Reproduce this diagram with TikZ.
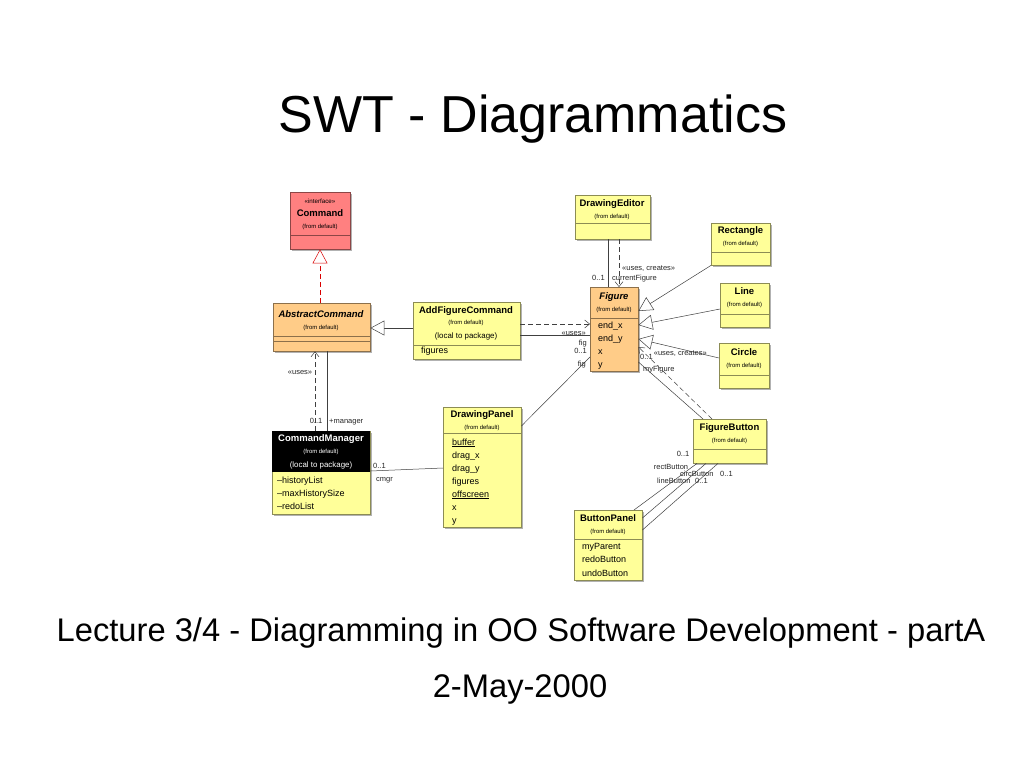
\documentclass[tikz,border=0pt]{standalone}
\usepackage{fontspec}
\setmainfont{Liberation Sans}
\usetikzlibrary{arrows.meta,shadows}
\definecolor{umlyellow}{HTML}{FFFF99}
\definecolor{umlorange}{HTML}{FFCC88}
\definecolor{umlred}{HTML}{FF8080}
\definecolor{umlline}{HTML}{404040}
\begin{document}
\begin{tikzpicture}[x=1pt,y=-1pt,
    classbox/.style={draw=#1!55!black, fill=#1, anchor=north west, inner sep=0pt,
      drop shadow={shadow xshift=2pt,shadow yshift=-2pt,fill=black!30,opacity=1}},
    divider/.style={draw=#1!55!black, line width=0.4pt},
    cname/.style={font=\fontsize{9.5}{11}\selectfont\bfseries, anchor=base, inner sep=0pt},
    fromdef/.style={font=\fontsize{5.9}{7}\selectfont, anchor=base, inner sep=0pt},
    localpkg/.style={font=\fontsize{7.9}{9}\selectfont, anchor=base, inner sep=0pt},
    attr/.style={font=\fontsize{9}{10}\selectfont, anchor=base west, inner sep=0pt},
    lbl/.style={font=\fontsize{7.5}{8}\selectfont, text=black!85, anchor=base west, inner sep=0pt},
    assoc/.style={draw=umlline, line width=0.5pt},
    dep/.style={assoc, dash pattern=on 5pt off 3pt, -{Straight Barb[length=5pt,width=8pt]}},
    gen/.style={assoc, -{Triangle[open,length=14pt,width=15pt,fill=white]}}]
  \useasboundingbox (0,0) rectangle (1024,768);
  \fill[white] (0,0) rectangle (1024,768);

  % titles
  \node[font=\fontsize{52}{60}\selectfont, anchor=base] (title) at (533,132) {SWT - Diagrammatics};
  \node[font=\fontsize{32.7}{38}\selectfont, anchor=base] (lecture) at (521,641)
    {Lecture 3/4 - Diagramming in OO Software Development - partA};
  \node[font=\fontsize{32.7}{38}\selectfont, anchor=base] (date) at (520,697) {2-May-2000};

  % classes
  \node[classbox=umlred, minimum width=60pt, minimum height=57pt] (command) at (290,192) {};
  \draw[divider=umlred] (290,235) -- (350,235);
  \node[fromdef, font=\fontsize{6.2}{7}\selectfont] (commandst) at (320,203) {«interface»};
  \node[cname] (commandname) at (320,216.5) {Command};
  \node[fromdef] (commandfrom) at (320,228.5) {(from default)};

  \node[classbox=umlorange, minimum width=97pt, minimum height=48pt] (abstract) at (273,303) {};
  \draw[divider=umlorange] (273,336) -- (370,336);
  \draw[divider=umlorange] (273,341) -- (370,341);
  \node[cname, font=\fontsize{9.5}{11}\selectfont\bfseries\itshape] (abstractname) at (321,317.5) {AbstractCommand};
  \node[fromdef] (abstractfrom) at (321,329.5) {(from default)};

  \node[classbox=umlyellow, minimum width=107pt, minimum height=57pt] (addfig) at (413,302) {};
  \draw[divider=umlyellow] (413,345) -- (520,345);
  \node[cname] (addfigname) at (466,313.5) {AddFigureCommand};
  \node[fromdef] (addfigfrom) at (466,324.5) {(from default)};
  \node[localpkg] (addfiglocal) at (466,338.5) {(local to package)};
  \node[attr] (addfigfigures) at (421,353.5) {figures};

  \node[classbox=umlorange, minimum width=48pt, minimum height=84pt] (figure) at (590,287) {};
  \draw[divider=umlorange] (590,318) -- (638,318);
  \node[cname, font=\fontsize{9.5}{11}\selectfont\bfseries\itshape] (figurename) at (614,299.5) {Figure};
  \node[fromdef] (figurefrom) at (614,311.5) {(from default)};
  \node[attr] (figureendx) at (598,328) {end\_x};
  \node[attr] (figureendy) at (598,341) {end\_y};
  \node[attr] (figurex) at (598,354) {x};
  \node[attr] (figurey) at (598,367) {y};

  \node[classbox=umlyellow, minimum width=75pt, minimum height=44pt] (editor) at (575,195) {};
  \draw[divider=umlyellow] (575,223) -- (650,223);
  \node[cname] (editorname) at (612,206.5) {DrawingEditor};
  \node[fromdef] (editorfrom) at (612,218.5) {(from default)};

  \node[classbox=umlyellow, minimum width=59pt, minimum height=42pt] (rect) at (711,223) {};
  \draw[divider=umlyellow] (711,252) -- (770,252);
  \node[cname] (rectname) at (740.5,233.5) {Rectangle};
  \node[fromdef] (rectfrom) at (740.5,245.5) {(from default)};

  \node[classbox=umlyellow, minimum width=49pt, minimum height=44pt] (line) at (720,283) {};
  \draw[divider=umlyellow] (720,314) -- (769,314);
  \node[cname] (linename) at (744.5,294.5) {Line};
  \node[fromdef] (linefrom) at (744.5,306.5) {(from default)};

  \node[classbox=umlyellow, minimum width=50pt, minimum height=45pt] (circle) at (719,343) {};
  \draw[divider=umlyellow] (719,375) -- (769,375);
  \node[cname] (circlename) at (744,355.5) {Circle};
  \node[fromdef] (circlefrom) at (744,367.5) {(from default)};

  \node[classbox=umlyellow, minimum width=73pt, minimum height=44pt] (figbutton) at (693,419) {};
  \draw[divider=umlyellow] (693,449) -- (766,449);
  \node[cname] (figbuttonname) at (729.5,430.5) {FigureButton};
  \node[fromdef] (figbuttonfrom) at (729.5,442.5) {(from default)};

  \node[classbox=umlyellow, minimum width=68pt, minimum height=70pt] (buttonpanel) at (574,510) {};
  \draw[divider=umlyellow] (574,539) -- (642,539);
  \node[cname] (buttonpanelname) at (608,521.5) {ButtonPanel};
  \node[fromdef] (buttonpanelfrom) at (608,533.5) {(from default)};
  \node[attr] (bpparent) at (582,549) {myParent};
  \node[attr] (bpredo) at (582,562.5) {redoButton};
  \node[attr] (bpundo) at (582,576) {undoButton};

  \node[classbox=umlyellow, minimum width=78pt, minimum height=120pt] (drawingpanel) at (443,407) {};
  \draw[divider=umlyellow] (443,433) -- (521,433);
  \node[cname] (drawingpanelname) at (482,417.5) {DrawingPanel};
  \node[fromdef] (drawingpanelfrom) at (482,429.5) {(from default)};
  \node[attr] (dpbuffer) at (452,445) {\underline{buffer}};
  \node[attr] (dpdragx) at (452,458) {drag\_x};
  \node[attr] (dpdragy) at (452,471) {drag\_y};
  \node[attr] (dpfigures) at (452,484) {figures};
  \node[attr] (dpoffscreen) at (452,497) {\underline{offscreen}};
  \node[attr] (dpx) at (452,510) {x};
  \node[attr] (dpy) at (452,523) {y};

  \node[classbox=umlyellow, minimum width=98pt, minimum height=83pt] (cmdmgr) at (272,431) {};
  \fill[black] (cmdmgr.north west) rectangle (cmdmgr.east |- 0,472);
  \node[cname, text=white] (cmdmgrname) at (321,441.5) {CommandManager};
  \node[fromdef, text=white] (cmdmgrfrom) at (321,453.5) {(from default)};
  \node[localpkg, text=white] (cmdmgrlocal) at (321,467) {(local to package)};
  \node[attr] (cmhistory) at (277,483) {–historyList};
  \node[attr] (cmmax) at (277,496) {–maxHistorySize};
  \node[attr] (cmredo) at (277,509) {–redoList};

  % relations
  \draw[red!85!black, line width=0.5pt, dash pattern=on 5pt off 3pt,
    -{Triangle[open,length=14pt,width=15pt,fill=white]}]
    (abstract.north -| 320,0) -- (command.south -| 320,0);
  \draw[gen] (addfig.west |- 0,328) -- (abstract.east |- 0,328);
  \draw[dep] (addfig.east |- 0,324) -- (figure.west |- 0,324);
  \draw[assoc] (addfig.east |- 0,335) -- (figure.west |- 0,335);
  \draw[assoc] (drawingpanel.east |- 0,426) -- (figure.west |- 0,357);
  \draw[assoc] (editor.south -| 608,0) -- (figure.north -| 608,0);
  \draw[dep] (editor.south -| 619,0) -- (figure.north -| 619,0);
  \draw[gen] (rect.south west) -- (figure.east |- 0,311);
  \draw[gen] (line.west |- 0,309) -- (figure.east |- 0,325);
  \draw[gen] (circle.west |- 0,358) -- (figure.east |- 0,339);
  \draw[dep] (figbutton.north -| 712,0) -- (figure.east |- 0,347);
  \draw[assoc] (figbutton.north -| 703,0) -- (figure.east |- 0,362);
  \draw[dep] (cmdmgr.north -| 315,0) -- (abstract.south -| 315,0);
  \draw[assoc] (cmdmgr.north -| 327,0) -- (abstract.south -| 327,0);
  \draw[assoc] (cmdmgr.east |- 0,471) -- (drawingpanel.west |- 0,468);
  \draw[assoc] (buttonpanel.north -| 634,0) -- (figbutton.south -| 697,0);
  \draw[assoc] (buttonpanel.east |- 0,518) -- (figbutton.south -| 706,0);
  \draw[assoc] (buttonpanel.east |- 0,530) -- (figbutton.south -| 718,0);

  % relation labels
  \node[lbl] (editoruses) at (622,270.5) {«uses, creates»};
  \node[lbl] (editormult) at (592,280.5) {0..1};
  \node[lbl] (editorrole) at (612,280.5) {currentFigure};
  \node[lbl, anchor=base east] (addfiguses) at (586,335.5) {«uses»};
  \node[lbl, anchor=base east] (addfigrole) at (587,345.5) {fig};
  \node[lbl, anchor=base east] (addfigmult) at (587,353.5) {0..1};
  \node[lbl, anchor=base east] (dprole) at (586,366.5) {fig};
  \node[lbl, anchor=base east] (fbuses) at (707,355.5) {«uses, creates»};
  \node[lbl] (fbmult) at (640,359) {0..1};
  \node[lbl] (fbrole) at (643,371.5) {myFigure};
  \node[lbl, anchor=base] (cmuses) at (300,374.5) {«uses»};
  \node[lbl, anchor=base] (cmmult) at (316,423) {0..1};
  \node[lbl] (cmrole) at (329,423) {+manager};
  \node[lbl] (dpmult) at (373,468) {0..1};
  \node[lbl] (dprolecm) at (376,481.5) {cmgr};
  \node[lbl, anchor=base] (rectmult) at (683,456) {0..1};
  \node[lbl, anchor=base] (rectrole) at (671,469) {rectButton};
  \node[lbl] (circrole) at (680,476) {circButton};
  \node[lbl] (circmult) at (720,476) {0..1};
  \node[lbl] (linerole) at (657,483) {lineButton};
  \node[lbl] (linemult) at (695,483) {0..1};
\end{tikzpicture}
\end{document}
